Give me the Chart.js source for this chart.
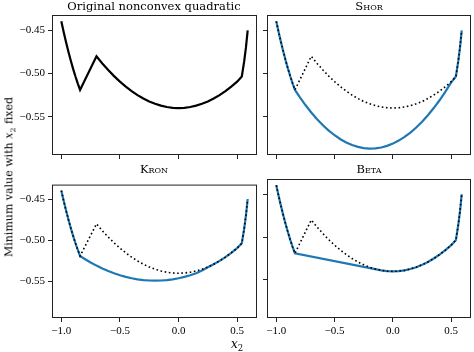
<!DOCTYPE html>
<html>
<head>
<meta charset="utf-8">
<script src="https://cdn.jsdelivr.net/npm/chart.js@4.4.0/dist/chart.umd.min.js"></script>
<style>
  html, body { margin: 0; padding: 0; background: #fff; }
  #fig { position: relative; width: 474px; height: 352px; overflow: hidden; font-family: 'DejaVu Serif', serif; color: #000; }
  .panel { position: absolute; }
  .ttl { position: absolute; font-size: 11.5px; line-height: 1; white-space: nowrap; transform: translate(-50%, -50%); }
  .sc { font-variant: small-caps; }
  #ylab { position: absolute; left: 10px; top: 177px; font-size: 11px; white-space: nowrap; transform: translate(-50%, -50%) rotate(-90deg); }
  #xlab { position: absolute; left: 237px; top: 345px; font-size: 12px; font-style: italic; transform: translate(-50%, -50%); }
  #xlab sub { font-style: normal; font-size: 8.5px; }
</style>
</head>
<body>
<div id="fig">
  <div class="panel" style="left:0px;top:0px"><canvas id="c1" width="259" height="175"></canvas></div>
  <div class="panel" style="left:262px;top:0px"><canvas id="c2" width="212" height="175"></canvas></div>
  <div class="panel" style="left:0px;top:175px"><canvas id="c3" width="259" height="167"></canvas></div>
  <div class="panel" style="left:262px;top:175px"><canvas id="c4" width="212" height="167"></canvas></div>
  <div class="ttl" style="left:154px;top:7px">Original nonconvex quadratic</div>
  <div class="ttl sc" style="left:369px;top:7px">Shor</div>
  <div class="ttl sc" style="left:154px;top:170px">Kron</div>
  <div class="ttl sc" style="left:369px;top:170px">Beta</div>
  <div id="ylab">Minimum value with <i>x</i><sub style="font-size:8px">2</sub> fixed</div>
  <div id="xlab">x<sub>2</sub></div>
</div>
<script>
// tick positions
const xTicks = [-1.0, -0.5, 0.0, 0.5];
const yTicks = [-0.55, -0.50, -0.45];

// original nonconvex quadratic (min over x1 with x2 fixed)
const origX = [-1.0, -0.98, -0.96, -0.94, -0.92, -0.90, -0.88, -0.86, -0.84,
  -0.70, -0.65, -0.60, -0.55, -0.50, -0.45, -0.40, -0.35, -0.30, -0.25, -0.20, -0.15, -0.10, -0.05,
  0.0, 0.05, 0.10, 0.15, 0.20, 0.25, 0.30, 0.35, 0.40, 0.45, 0.50, 0.54, 0.56, 0.575, 0.59];
const origY = [-0.4395, -0.4518, -0.4635, -0.4744, -0.4847, -0.4943, -0.5032, -0.5114, -0.519,
  -0.480, -0.4883, -0.4959, -0.5030, -0.5094, -0.5152, -0.5204, -0.5250, -0.5290, -0.5324, -0.5351, -0.5372, -0.5388, -0.5397,
  -0.5400, -0.5397, -0.5388, -0.5372, -0.5351, -0.5324, -0.5290, -0.5250, -0.5204, -0.5152, -0.5094, -0.5035, -0.486, -0.470, -0.450];

// Shor relaxation
const shorX = [-1.0, -0.98, -0.96, -0.94, -0.92, -0.90, -0.88, -0.86, -0.84,
  -0.80, -0.75, -0.70, -0.65, -0.60, -0.55, -0.50, -0.45, -0.40, -0.35, -0.30, -0.25, -0.20, -0.15, -0.10, -0.05,
  0.0, 0.05, 0.10, 0.15, 0.20, 0.25, 0.30, 0.35, 0.40, 0.45, 0.50, 0.54, 0.56, 0.575, 0.59];
const shorY = [-0.4395, -0.4518, -0.4635, -0.4744, -0.4847, -0.4943, -0.5032, -0.5114, -0.519,
  -0.5271, -0.5365, -0.5451, -0.5529, -0.5599, -0.5661, -0.5715, -0.5761, -0.5799, -0.5829, -0.5850, -0.5864, -0.5870, -0.5867, -0.5857, -0.5838,
  -0.5812, -0.5777, -0.5735, -0.5684, -0.5625, -0.5558, -0.5483, -0.5400, -0.5310, -0.5210, -0.5103, -0.5035, -0.486, -0.470, -0.450];

// Kron
const kronX = [-1.0, -0.98, -0.96, -0.94, -0.92, -0.90, -0.88, -0.86, -0.84,
  -0.80, -0.75, -0.70, -0.65, -0.60, -0.55, -0.50, -0.45, -0.40, -0.35, -0.30, -0.25, -0.20, -0.15, -0.10, -0.05,
  0.0, 0.05, 0.10, 0.15, 0.20, 0.25, 0.30, 0.35, 0.40, 0.45, 0.50, 0.54, 0.56, 0.575, 0.59];
const kronY = [-0.4395, -0.4518, -0.4635, -0.4744, -0.4847, -0.4943, -0.5032, -0.5114, -0.519,
  -0.5226, -0.5269, -0.5307, -0.5342, -0.5373, -0.5400, -0.5424, -0.5444, -0.5461, -0.5474, -0.5483, -0.5488, -0.5490, -0.5488, -0.5483, -0.5474,
  -0.5461, -0.5444, -0.5424, -0.5400, -0.5367, -0.5328, -0.5290, -0.5250, -0.5204, -0.5152, -0.5094, -0.5035, -0.486, -0.470, -0.450];

// Beta
const betaX = [-1.0, -0.98, -0.96, -0.94, -0.92, -0.90, -0.88, -0.86, -0.84,
  -0.12, -0.10, -0.05, 0.0, 0.05, 0.10, 0.15, 0.20, 0.25, 0.30, 0.35, 0.40, 0.45, 0.50, 0.54, 0.56, 0.575, 0.59];
const betaY = [-0.4395, -0.4518, -0.4635, -0.4744, -0.4847, -0.4943, -0.5032, -0.5114, -0.519,
  -0.5382, -0.5388, -0.5397, -0.5400, -0.5397, -0.5388, -0.5372, -0.5351, -0.5324, -0.5290, -0.5250, -0.5204, -0.5152, -0.5094, -0.5035, -0.486, -0.470, -0.450];

const BLUE = '#1f77b4';
const tickFont = { family: "'Liberation Serif', serif", size: 11 };

function zip(xs, ys) {
  return xs.map((x, i) => ({ x: x, y: ys[i] }));
}

function fmt(v, digits) {
  const s = Math.abs(v).toFixed(digits);
  return v < 0 ? '\u2212' + s : s;
}

const framePlugin = {
  id: 'frame',
  afterDraw(chart) {
    const a = chart.chartArea;
    const ctx = chart.ctx;
    ctx.save();
    ctx.strokeStyle = '#222';
    ctx.lineWidth = 1;
    ctx.strokeRect(a.left + 0.5, a.top + 0.5, a.right - a.left - 1, a.bottom - a.top - 1);
    ctx.restore();
  }
};

function solid(xs, ys, color) {
  return {
    data: zip(xs, ys),
    borderColor: color,
    borderWidth: 2.2,
    pointRadius: 0,
    tension: 0,
    fill: false
  };
}

function dotted(xs, ys) {
  return {
    data: zip(xs, ys),
    borderColor: '#000',
    borderWidth: 1.6,
    borderDash: [1.6, 2.6],
    pointRadius: 0,
    tension: 0,
    fill: false
  };
}

function makePanel({ id, datasets, showX, showY, padTop, xH, yW, padRight }) {
  const ctx = document.getElementById(id).getContext('2d');
  new Chart(ctx, {
    type: 'line',
    data: { datasets: datasets },
    options: {
      responsive: false,
      animation: false,
      events: [],
      layout: { padding: { top: padTop, right: padRight, left: 0, bottom: 0 } },
      plugins: { legend: { display: false }, tooltip: { enabled: false } },
      scales: {
        x: {
          type: 'linear',
          min: -1.0795,
          max: 0.6695,
          afterBuildTicks: s => { s.ticks = xTicks.map(v => ({ value: v })); },
          afterFit: s => { s.height = xH; },
          grid: { drawOnChartArea: false, drawTicks: true, tickLength: 4, color: '#222', lineWidth: 1 },
          border: { display: false },
          ticks: { display: showX, font: tickFont, color: '#000', padding: 3, maxRotation: 0, callback: v => fmt(v, 1) }
        },
        y: {
          type: 'linear',
          min: -0.5944,
          max: -0.4322,
          afterBuildTicks: s => { s.ticks = yTicks.map(v => ({ value: v })); },
          afterFit: s => { s.width = yW; },
          grid: { drawOnChartArea: false, drawTicks: true, tickLength: 4, color: '#222', lineWidth: 1 },
          border: { display: false },
          ticks: { display: showY, font: tickFont, color: '#000', padding: 3, callback: v => fmt(v, 2) }
        }
      }
    },
    plugins: [framePlugin]
  });
}

makePanel({
  id: 'c1',
  datasets: [solid(origX, origY, '#000')],
  showX: false, showY: true, padTop: 15, xH: 20, yW: 52, padRight: 2
});

makePanel({
  id: 'c2',
  datasets: [dotted(origX, origY), solid(shorX, shorY, BLUE)],
  showX: false, showY: false, padTop: 15, xH: 20, yW: 5, padRight: 3
});

makePanel({
  id: 'c3',
  datasets: [dotted(origX, origY), solid(kronX, kronY, BLUE)],
  showX: true, showY: true, padTop: 4, xH: 24, yW: 52, padRight: 2
});

makePanel({
  id: 'c4',
  datasets: [dotted(origX, origY), solid(betaX, betaY, BLUE)],
  showX: true, showY: false, padTop: 4, xH: 24, yW: 5, padRight: 3
});
</script>
</body>
</html>
